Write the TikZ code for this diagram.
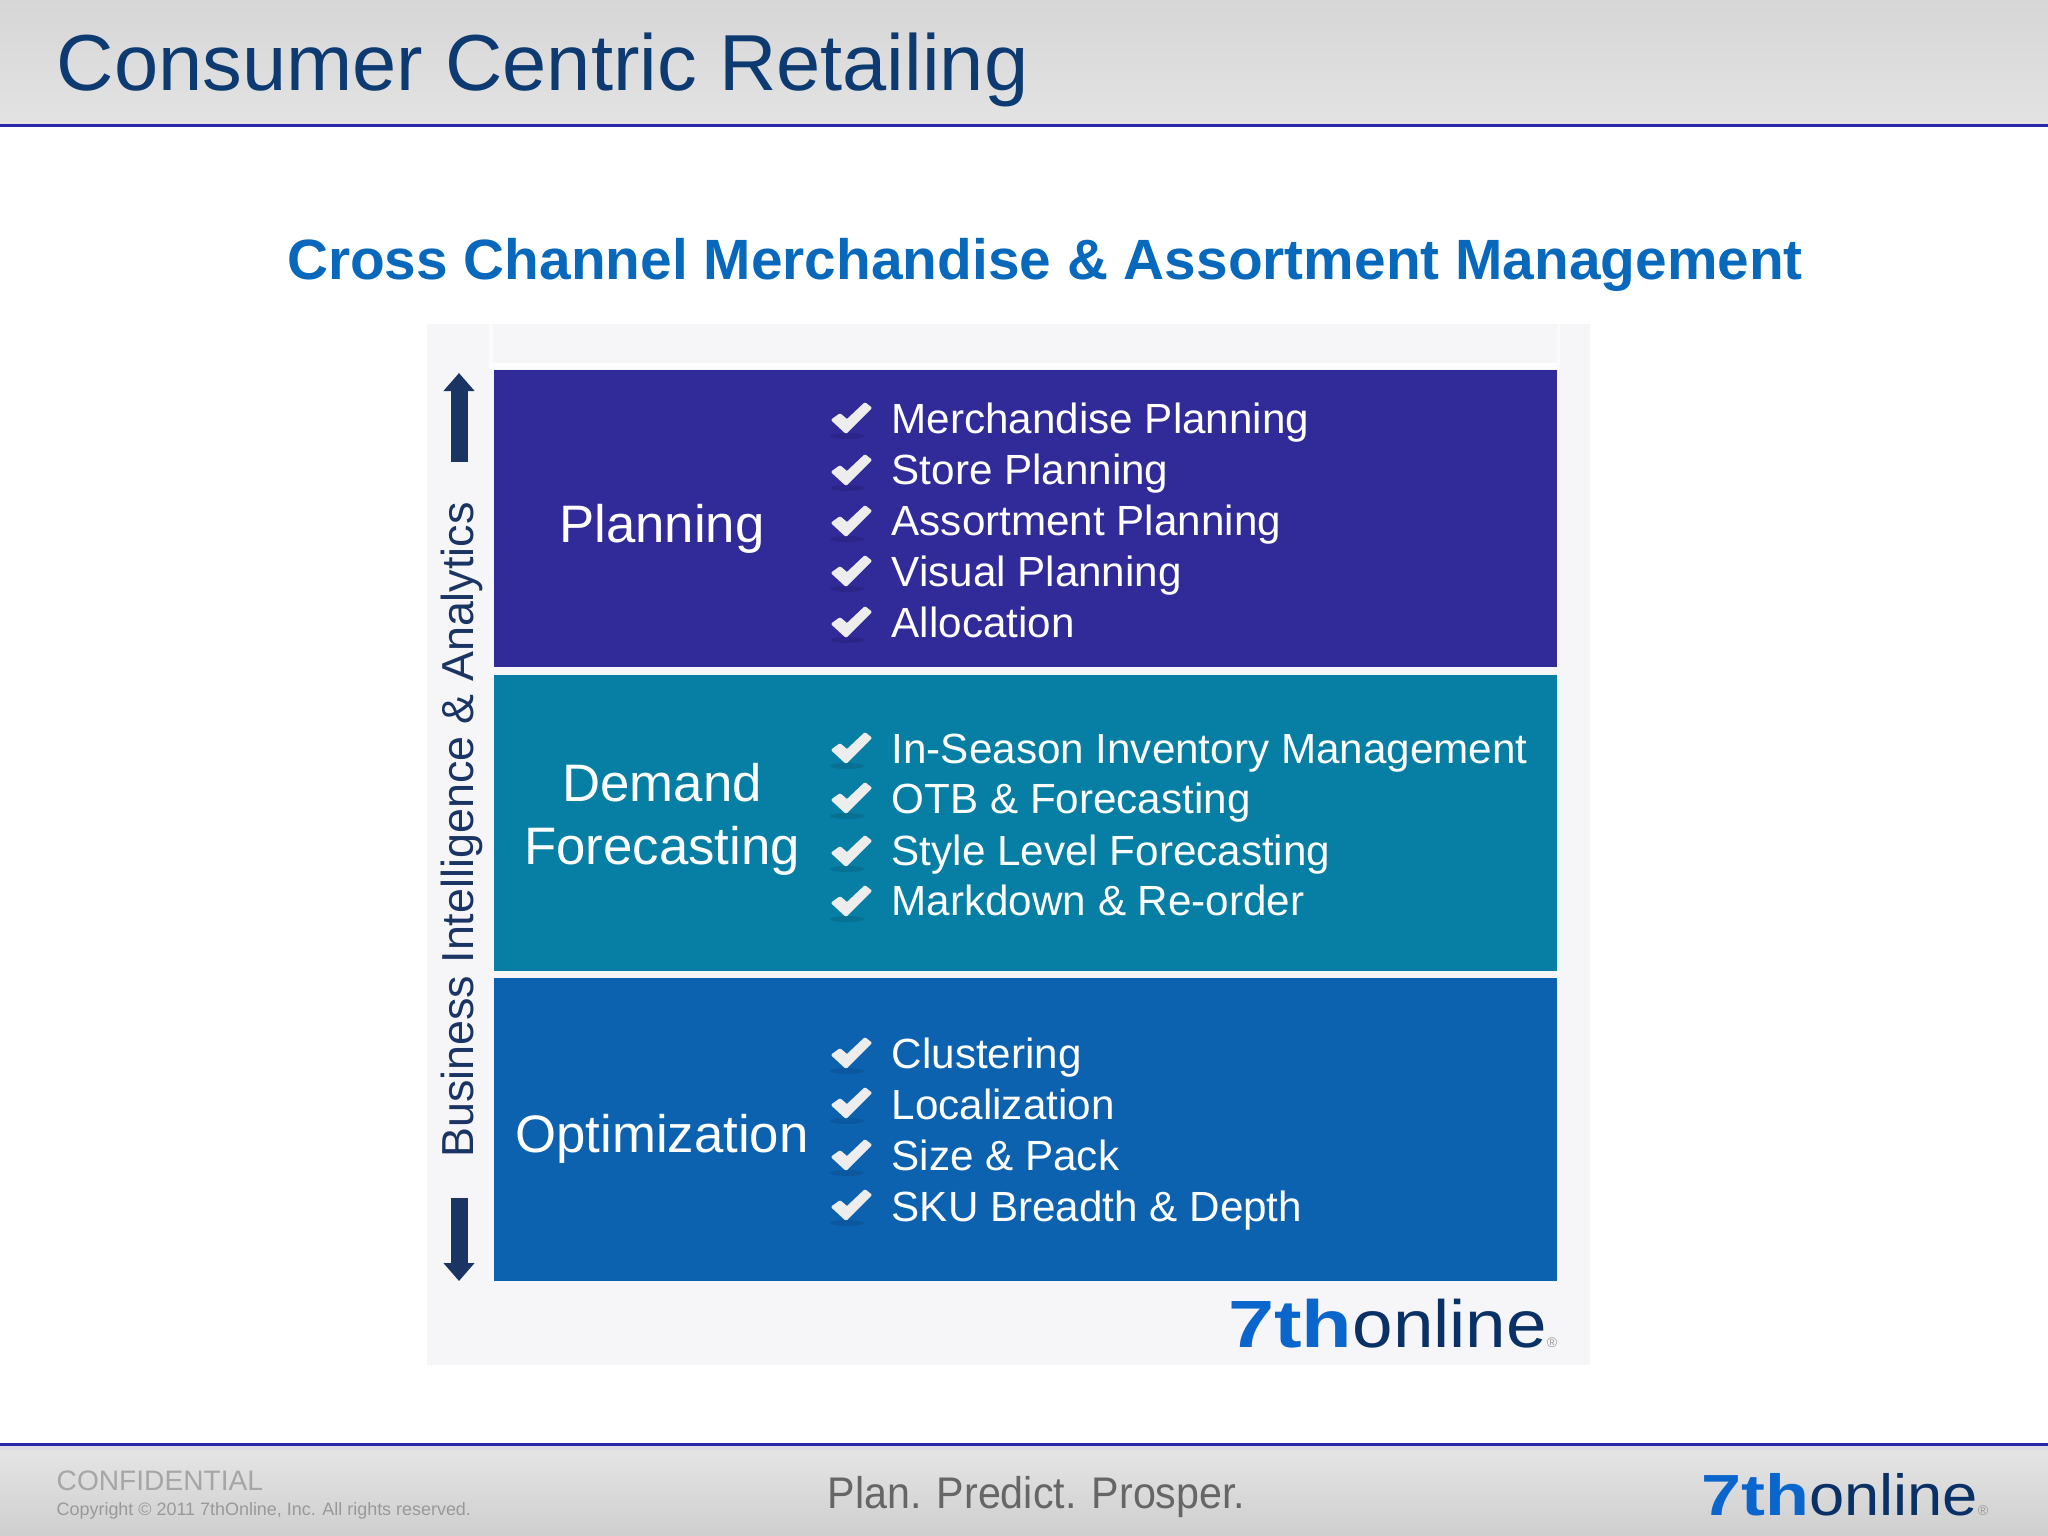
\documentclass[tikz,border=0pt]{standalone}
\usepackage{fontspec}
\usepackage{graphicx}
\setmainfont{Liberation Sans}
\usetikzlibrary{arrows.meta}

\definecolor{titleblue}{HTML}{0D3A70}
\definecolor{headblue}{HTML}{0869BC}
\definecolor{ruleblue}{HTML}{2828A8}
\definecolor{planbox}{HTML}{312A99}
\definecolor{demandbox}{HTML}{077EA3}
\definecolor{optbox}{HTML}{0D62B0}
\definecolor{panelgray}{HTML}{F6F5F8}
\definecolor{arrowblue}{HTML}{1A3563}
\definecolor{logoblue}{HTML}{0A66CC}
\definecolor{logonavy}{HTML}{0A3166}

\newcommand{\pxsize}[1]{\fontsize{#1}{#1}\selectfont}
\newcommand{\logotxt}{\scalebox{1.24}[1]{\textcolor{logoblue}{\bfseries 7th}}\scalebox{1.09}[1]{\textcolor{logonavy}{online}}\textcolor{black!40}{\pxsize{4}®}}

\begin{document}
\begin{tikzpicture}[x=0.01cm, y=-0.01cm]

\tikzset{
  box/.style={minimum width=10.63cm, inner sep=0pt, anchor=north west, draw=none},
  bandtxt/.style={text=white, align=center, font=\pxsize{15}, inner sep=0pt},
  itemtxt/.style={text=white, anchor=west, font=\pxsize{12}, inner sep=0pt, text height=8.6pt, text depth=2.5pt},
  blkarrow/.style={line width=0.17cm, arrowblue, -{Triangle[length=0.18cm, width=0.3cm]}},
  checkmark/.pic={
    \fill[black, opacity=0.1] (-4,18) ellipse (17 and 3);
    \filldraw[white!93!black, line width=0.03cm, line join=round] (-18,2) -- (-11,-3) -- (-4,3) -- (14,-14) -- (19,-10) -- (-5,14) -- cycle;
  },
}

\useasboundingbox (0,0) rectangle (2048,1536);

\shade[top color=black!16, bottom color=black!11] (0,0) rectangle (2048,125);
\shade[top color=black!10, bottom color=black!19] (0,1446) rectangle (2048,1536);
\fill[ruleblue] (0,124) rectangle (2048,127);
\fill[ruleblue!45!black!15] (0,1446) rectangle (2048,1450);
\fill[ruleblue] (0,1443) rectangle (2048,1446);

\node[anchor=west, inner sep=0pt, text=titleblue, font=\pxsize{22.6}, name=title] at (56,70) {Consumer Centric Retailing};
\node[inner sep=0pt, text=headblue, font=\pxsize{16.16}\bfseries, name=subtitle] at (1045,265) {Cross Channel Merchandise \& Assortment Management};

\fill[panelgray] (427,324) rectangle (1590,1365);
\fill[white!60!panelgray] (489,324) rectangle (493,369);
\fill[white!80!panelgray] (489,363) rectangle (1557,369);
\fill[white!60!panelgray] (1557,324) rectangle (1560,369);

\node[box, fill=planbox, minimum height=2.97cm, name=planband] at (493,369) {};
\node[box, fill=demandbox, minimum height=2.96cm, name=demandband] at (493,674) {};
\node[box, fill=optbox, minimum height=3.03cm, name=optband] at (493,977) {};

\node[bandtxt, name=plantxt] at (662,529) {Planning};
\node[bandtxt, name=demandtxt] at (662,819) {Demand\\[3pt]Forecasting};
\node[bandtxt, name=opttxt] at (662,1139) {Optimization};

\pic at (851,418) {checkmark};
\pic at (851,470) {checkmark};
\pic at (851,521) {checkmark};
\pic at (851,571) {checkmark};
\pic at (851,622) {checkmark};
\pic at (851,748) {checkmark};
\pic at (851,798) {checkmark};
\pic at (851,851) {checkmark};
\pic at (851,901) {checkmark};
\pic at (851,1053) {checkmark};
\pic at (851,1103) {checkmark};
\pic at (851,1155) {checkmark};
\pic at (851,1205) {checkmark};

\node[itemtxt, name=item11] at (891,423) {Merchandise Planning};
\node[itemtxt, name=item12] at (891,474) {Store Planning};
\node[itemtxt, name=item13] at (891,525) {Assortment Planning};
\node[itemtxt, name=item14] at (891,576) {Visual Planning};
\node[itemtxt, name=item15] at (891,627) {Allocation};
\node[itemtxt, name=item21] at (891,753) {In-Season Inventory Management};
\node[itemtxt, name=item22] at (891,803) {OTB \& Forecasting};
\node[itemtxt, name=item23] at (891,855) {Style Level Forecasting};
\node[itemtxt, name=item24] at (891,905) {Markdown \& Re-order};
\node[itemtxt, name=item31] at (891,1058) {Clustering};
\node[itemtxt, name=item32] at (891,1109) {Localization};
\node[itemtxt, name=item33] at (891,1160) {Size \& Pack};
\node[itemtxt, name=item34] at (891,1211) {SKU Breadth \& Depth};

\node[rotate=90, inner sep=0pt, text=arrowblue, font=\pxsize{12.75}, name=sidetxt] at (462,830) {Business Intelligence \& Analytics};

\coordinate (upfrom) at (459,462);
\coordinate (upto) at (459,373);
\coordinate (downfrom) at (459,1198);
\coordinate (downto) at (459,1281);
\draw[blkarrow] (upfrom) -- (upto);
\draw[blkarrow] (downfrom) -- (downto);

\node[anchor=base east, inner sep=0pt, font=\pxsize{19}, name=logomain] at (1558,1347) {\logotxt};
\node[anchor=base west, inner sep=0pt, text=black!35, font=\pxsize{8}, name=confid] at (56,1490) {CONFIDENTIAL};
\node[anchor=base west, inner sep=0pt, text=black!40, font=\pxsize{5.1}, name=copyr] at (56,1515) {Copyright © 2011 7thOnline, Inc. All rights reserved.};
\node[anchor=base west, inner sep=0pt, text=black!60, font=\pxsize{12.6}, name=slogan] at (827,1508) {\scalebox{0.93}[1]{Plan. Predict. Prosper.}};
\node[anchor=base east, inner sep=0pt, font=\pxsize{16.5}, name=logofoot] at (1989,1515) {\logotxt};

\end{tikzpicture}
\end{document}
